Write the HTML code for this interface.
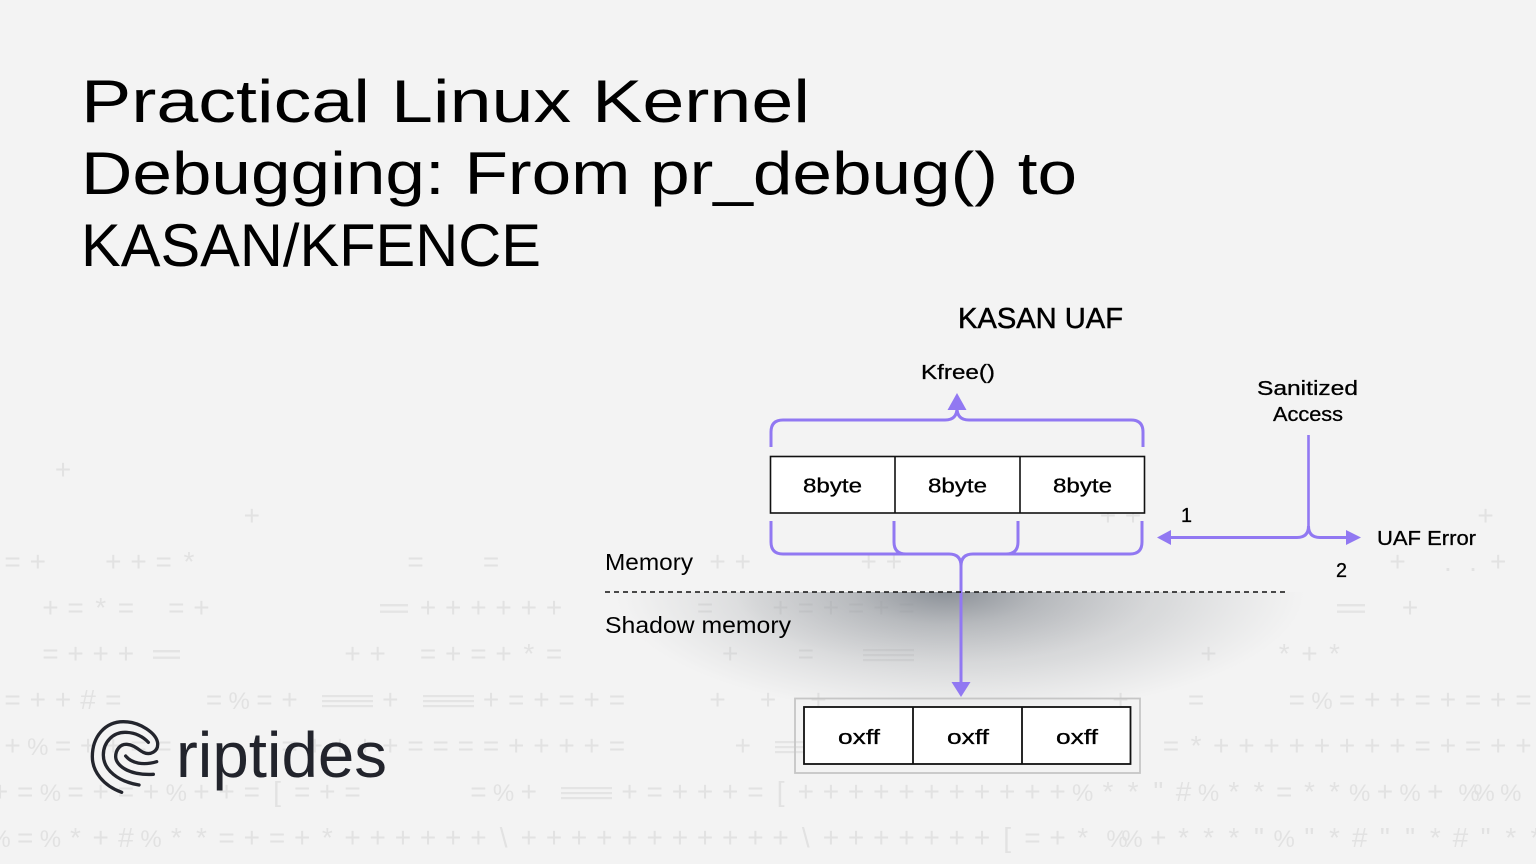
<!DOCTYPE html>
<html lang="en">
<head>
<meta charset="utf-8">
<title>Practical Linux Kernel Debugging: From pr_debug() to KASAN/KFENCE</title>
<style>
html,body{margin:0;padding:0;width:1536px;height:864px;overflow:hidden;background:#f3f3f3}
svg{display:block}
text{font-family:"Liberation Sans",sans-serif;fill:#000}
.g text{font-size:28px;fill:#e2e2e2;text-anchor:middle;white-space:pre}
.g tspan{font-size:24px}
.g rect{fill:#e4e4e4}
.l{font-size:20px;stroke:#000;stroke-width:.3}
.t{font-size:60px}
.p{fill:none;stroke:#9178f2;stroke-width:3}
.a{fill:#9178f2}
.b{fill:#fff;stroke:#111;stroke-width:1.6}
.s{fill:none;stroke:#111;stroke-width:1.6}
</style>
</head>
<body>
<svg width="1536" height="864" viewBox="0 0 1536 864" xmlns="http://www.w3.org/2000/svg">
<defs>
<radialGradient id="s1"><stop offset="0" stop-color="#7f858d" stop-opacity=".8"/><stop offset=".45" stop-color="#8d9298" stop-opacity=".32"/><stop offset="1" stop-color="#a0a3a8" stop-opacity="0"/></radialGradient>
<radialGradient id="s2"><stop offset="0" stop-color="#9a9da3" stop-opacity=".6"/><stop offset=".6" stop-color="#a6a9ad" stop-opacity=".34"/><stop offset="1" stop-color="#b5b7ba" stop-opacity="0"/></radialGradient>
<clipPath id="below"><rect x="0" y="592" width="1536" height="272"/></clipPath>
</defs>
<rect width="1536" height="864" fill="#f3f3f3"/>

<g class="g">
<text y="479" x="63">+</text>
<text y="525" x="251.8">+</text>
<text y="525" x="1107.9">+</text>
<text y="525" x="1133.1">+</text>
<text y="525" x="1485.6">+</text>
<text y="571" x="12.6 37.8 63 88.1 113.3 138.5 163.7 188.9">=+  ++=*</text>
<text y="571" x="415.5">=</text><text y="571" x="491">=</text>
<text y="571" x="717.6">+</text><text y="571" x="742.8">+</text>
<text y="571" x="868.7">+</text><text y="571" x="893.9">+</text>
<text y="571" x="1397.5">+</text><text y="571" x="1447.9">.</text><text y="571" x="1473">.</text><text y="571" x="1498.2">+</text>
<text y="617" x="50.4 75.5 100.7 125.9 151.1 176.3 201.4">+=*= =+</text>
<text y="617" x="428.1 453.2 478.4 503.6 528.8 554">++++++</text>
<text y="617" x="705">=</text>
<text y="617" x="780.6 805.8 830.9 856.1 881.3 906.5">+=+=+=</text>
<text y="617" x="1410.1">+</text>
<text y="663" x="50.4 75.5 100.7 125.9">=+++</text>
<text y="663" x="352.5 377.7 402.9 428.1 453.2 478.4 503.6 528.8 554">++ =+=+*=</text>
<text y="663" x="730.2">+</text><text y="663" x="805.8">=</text>
<text y="663" x="1208.6">+</text><text y="663" x="1284.2 1309.4 1334.5">*+*</text>
<text y="709" x="12.6 37.8 63 88.1 113.3">=++#=</text>
<text y="709" x="214 239.2 264.4 289.6">=<tspan>%</tspan>=+</text>
<text y="709" x="390.3">+</text>
<text y="709" x="491 516.2 541.4 566.6 591.7 616.9">+=+=+=</text>
<text y="709" x="717.6">+</text><text y="709" x="768">+</text><text y="709" x="818.4">+</text>
<text y="709" x="1120.5">+</text><text y="709" x="1196.1">=</text>
<text y="709" x="1296.8 1322 1347.1 1372.3 1397.5 1422.7 1447.9 1473 1498.2 1523.4">=<tspan>%</tspan>=++=+=+=</text>
<text y="755" x="12.6 37.8 63 88.1 113.3 138.5 163.7">+<tspan>%</tspan>=++==</text>
<text y="755" x="289.6 314.8 339.9 365.1 390.3 415.5 440.7 465.8 491 516.2 541.4 566.6 591.7 616.9">=++++====++++=</text>
<text y="755" x="742.8">+</text>
<text y="755" x="1170.9 1196.1 1221.2 1246.4 1271.6 1296.8 1322 1347.1 1372.3 1397.5 1422.7 1447.9 1473 1498.2 1523.4">=*++++++++=+=++</text>
<text y="801" x="0 25.2 50.4 75.5 100.7 125.9 151.1 176.3 201.4 226.6 251.8 277 302.2 327.3 352.5">+=<tspan>%</tspan>=+=+<tspan>%</tspan>++=[=+=</text>
<text y="801" x="478.4 503.6 528.8">=<tspan>%</tspan>+</text>
<text y="801" x="629.5 654.7 679.9 705 730.2 755.4 780.6">+=+++=[</text>
<text y="801" x="805.8 830.9 856.1 881.3 906.5 931.7 956.8 982 1007.2 1032.4 1057.6">+++++++++++</text>
<text y="801" x="1082.7 1107.9 1133.1 1158.3 1183.5 1208.6 1233.8 1259 1284.2 1309.4 1334.5 1359.7 1384.9 1410.1 1435.3"><tspan>%</tspan>**"#<tspan>%</tspan>**=**<tspan>%</tspan>+<tspan>%</tspan>+</text>
<text y="801" x="1469 1484 1510.8"><tspan>%%%</tspan></text>
<text y="847" x="0 25.2 50.4 75.5 100.7 125.9 151.1 176.3 201.4 226.6 251.8 277 302.2 327.3"><tspan>%</tspan>=<tspan>%</tspan>*+#<tspan>%</tspan>**=+=+*</text>
<text y="847" x="352.5 377.7 402.9 428.1 453.2 478.4 503.6">++++++\</text>
<text y="847" x="528.8 554 579.1 604.3 629.5 654.7 679.9 705 730.2 755.4 780.6 805.8">+++++++++++\</text>
<text y="847" x="830.9 856.1 881.3 906.5 931.7 956.8 982 1007.2 1032.4 1057.6 1082.7">+++++++[=+*</text>
<text y="847" x="1117 1132"><tspan>%%</tspan></text>
<text y="847" x="1158.3 1183.5 1208.6 1233.8 1259 1284.2 1309.4 1334.5 1359.7 1384.9 1410.1 1435.3 1460.4 1485.6 1510.8 1536">+***"<tspan>%</tspan>"*#""*#"**</text>
<rect x="380" y="604" width="28" height="2.4"/><rect x="380" y="610.5" width="28" height="2.4"/>
<rect x="153" y="650" width="27" height="2.4"/><rect x="153" y="656.5" width="27" height="2.4"/>
<rect x="1337" y="604" width="28" height="2.4"/><rect x="1337" y="610.5" width="28" height="2.4"/>
<rect x="863" y="649" width="51" height="2.2"/><rect x="863" y="654" width="51" height="2.2"/><rect x="863" y="659" width="51" height="2.2"/>
<rect x="322" y="695" width="51" height="2.2"/><rect x="322" y="700" width="51" height="2.2"/><rect x="322" y="705" width="51" height="2.2"/>
<rect x="423" y="695" width="51" height="2.2"/><rect x="423" y="700" width="51" height="2.2"/><rect x="423" y="705" width="51" height="2.2"/>
<rect x="561" y="787" width="51" height="2.2"/><rect x="561" y="792" width="51" height="2.2"/><rect x="561" y="797" width="51" height="2.2"/>
<rect x="775" y="741" width="30" height="2.2"/><rect x="775" y="746" width="30" height="2.2"/><rect x="775" y="751" width="30" height="2.2"/>
</g>

<g clip-path="url(#below)">
<ellipse cx="960" cy="592" rx="345" ry="125" fill="url(#s2)"/>
<ellipse cx="945" cy="592" rx="210" ry="72" fill="url(#s1)"/>
</g>

<text class="t" x="81" y="122" textLength="729" lengthAdjust="spacingAndGlyphs">Practical Linux Kernel</text>
<text class="t" x="81" y="194" textLength="996" lengthAdjust="spacingAndGlyphs">Debugging: From pr_debug() to</text>
<text class="t" x="81" y="266" textLength="460" lengthAdjust="spacingAndGlyphs">KASAN/KFENCE</text>

<text x="958" y="328" style="font-size:29px;stroke:#000;stroke-width:.5" textLength="165" lengthAdjust="spacingAndGlyphs">KASAN UAF</text>
<text class="l" x="921" y="379" textLength="74" lengthAdjust="spacingAndGlyphs">Kfree()</text>
<text class="l" x="1257" y="395" textLength="101" lengthAdjust="spacingAndGlyphs">Sanitized</text>
<text class="l" x="1273" y="421" textLength="70" lengthAdjust="spacingAndGlyphs">Access</text>
<text class="l" x="1377" y="545" textLength="99" lengthAdjust="spacingAndGlyphs">UAF Error</text>
<text class="l" x="1181" y="522" textLength="11" lengthAdjust="spacingAndGlyphs">1</text>
<text class="l" x="1336" y="577" textLength="11" lengthAdjust="spacingAndGlyphs">2</text>
<text x="605" y="570" style="font-size:23px" textLength="88" lengthAdjust="spacingAndGlyphs">Memory</text>
<text x="605" y="633" style="font-size:23px" textLength="186" lengthAdjust="spacingAndGlyphs">Shadow memory</text>

<path class="p" d="M771 447V432Q771 420 783 420H945Q957 420 957 408M957 408Q957 420 969 420H1131Q1143 420 1143 432V447"/>
<polygon class="a" points="957,393 966.5,410 947.5,410"/>

<rect class="b" x="770.5" y="456.5" width="374" height="56.5"/>
<path class="s" d="M895 456.5V513M1020 456.5V513"/>
<text class="l" x="803" y="492.5" textLength="59" lengthAdjust="spacingAndGlyphs">8byte</text>
<text class="l" x="928" y="492.5" textLength="59" lengthAdjust="spacingAndGlyphs">8byte</text>
<text class="l" x="1053" y="492.5" textLength="59" lengthAdjust="spacingAndGlyphs">8byte</text>

<path class="p" d="M771 521V542Q771 554 783 554H949Q961 554 961 566V684"/>
<path class="p" d="M1142 521V542Q1142 554 1130 554H973Q961 554 961 566"/>
<path class="p" d="M894 521V542Q894 554 906 554M1018 521V542Q1018 554 1006 554"/>
<polygon class="a" points="961,697 951.5,682 970.5,682"/>

<path d="M605 592H1285" stroke="#111" stroke-width="1.5" stroke-dasharray="5 4" fill="none"/>

<rect x="795" y="698.5" width="345" height="74.5" fill="none" stroke="#c6c6c6" stroke-width="1.8"/>
<rect x="804" y="707" width="326.5" height="57" fill="#fff" stroke="#111" stroke-width="1.8"/>
<path d="M913 707V764M1022 707V764" stroke="#111" stroke-width="1.8" fill="none"/>
<text class="l" x="838" y="744" textLength="42" lengthAdjust="spacingAndGlyphs">oxff</text>
<text class="l" x="947" y="744" textLength="42" lengthAdjust="spacingAndGlyphs">oxff</text>
<text class="l" x="1056" y="744" textLength="42" lengthAdjust="spacingAndGlyphs">oxff</text>

<path class="p" style="stroke-width:2.6" d="M1308.5 435V526"/>
<path class="p" d="M1170 537.5H1297Q1308.5 537.5 1308.5 526Q1308.5 537.5 1320 537.5H1347"/>
<polygon class="a" points="1157,537.5 1171,530 1171,545"/>
<polygon class="a" points="1361,537.5 1346,530 1346,545"/>

<g transform="translate(85 715) scale(.3333)" fill="none" stroke="#23252d" stroke-width="10" stroke-linecap="round" stroke-linejoin="round">
<path d="M110 232C55 212 22 170 22 125C22 65 60 20 115 20C165 20 215 55 218 85C220 110 195 122 175 112C160 105 150 90 125 88C105 87 92 105 92 125C92 150 130 182 205 178"/>
<path d="M162 210C100 200 55 165 55 120C55 80 85 52 120 52C150 52 175 65 190 82"/>
<path d="M122 123C140 145 175 152 215 140"/>
</g>
<text x="176" y="777" style="font-size:64px;fill:#22242c" textLength="211" lengthAdjust="spacingAndGlyphs">riptides</text>
</svg>
</body>
</html>
